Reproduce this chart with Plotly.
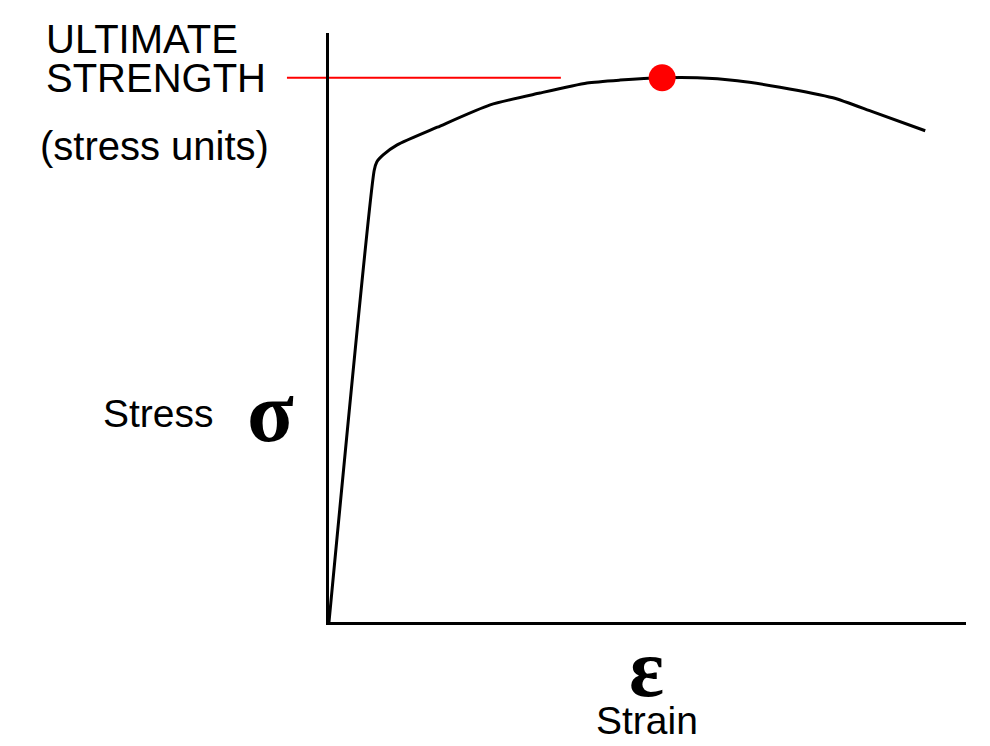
import plotly.graph_objects as go

# Stress-strain curve (arbitrary units)
strain = [0.0, 0.71, 0.75, 0.85, 1.07, 1.70, 2.53, 3.31, 4.05, 4.57, 5.23, 5.78, 6.41, 7.08, 7.91, 8.54, 9.36]
stress = [0.0, 7.67, 7.81, 7.93, 8.10, 8.40, 8.78, 8.98, 9.15, 9.20, 9.24, 9.24, 9.19, 9.08, 8.90, 8.66, 8.34]
ultimate_strain = [5.23]
ultimate_stress = [9.24]

X_RANGE = [0, 10]
Y_RANGE = [0, 10]

fig = go.Figure()
fig.add_trace(go.Scatter(x=strain, y=stress, mode="lines",
                         line=dict(color="black", width=3, shape="spline", smoothing=0.6),
                         hoverinfo="skip"))
fig.add_trace(go.Scatter(x=ultimate_strain, y=ultimate_stress, mode="markers",
                         marker=dict(color="red", size=27), cliponaxis=False, hoverinfo="skip"))

fig.add_shape(type="line", xref="paper", yref="y", x0=-0.066, x1=0.364,
              y0=ultimate_stress[0], y1=ultimate_stress[0],
              line=dict(color="red", width=2), layer="below")

L, T, W, H = 329, 33, 637, 589
def px(xp):
    return (xp - L) / W
def py(yp):
    return (T + H - yp) / H

sans = "Liberation Sans, Arial, sans-serif"
serif = "Liberation Serif, Times New Roman, serif"
ann = [
    dict(x=px(45), y=py(39), text="ULTIMATE", xanchor="left", yanchor="middle",
         font=dict(family=sans, size=40, color="black")),
    dict(x=px(45), y=py(78), text="STRENGTH", xanchor="left", yanchor="middle",
         font=dict(family=sans, size=40, color="black")),
    dict(x=px(39), y=py(146), text="(stress units)", xanchor="left", yanchor="middle",
         font=dict(family=sans, size=40, color="black")),
    dict(x=px(102), y=py(413), text="Stress", xanchor="left", yanchor="middle",
         font=dict(family=sans, size=39, color="black")),
    dict(x=px(270), y=py(412), text="<b>σ</b>", xanchor="center", yanchor="middle",
         font=dict(family=serif, size=86, color="black")),
    dict(x=px(646), y=py(668), text="<b>ε</b>", xanchor="center", yanchor="middle",
         font=dict(family=serif, size=82, color="black")),
    dict(x=px(647), y=py(720), text="Strain", xanchor="center", yanchor="middle",
         font=dict(family=sans, size=39, color="black")),
]
for a in ann:
    a.update(xref="paper", yref="paper", showarrow=False, borderpad=0)
fig.update_layout(annotations=ann)

fig.update_layout(
    width=990, height=746, autosize=False,
    margin=dict(l=L, r=990 - L - W, t=T, b=746 - T - H, pad=0),
    paper_bgcolor="white", plot_bgcolor="white", showlegend=False,
)
fig.update_xaxes(range=X_RANGE, showline=True, linecolor="black", linewidth=3,
                 showgrid=False, zeroline=False, showticklabels=False, ticks="")
fig.update_yaxes(range=Y_RANGE, showline=True, linecolor="black", linewidth=3,
                 showgrid=False, zeroline=False, showticklabels=False, ticks="")

fig.write_html("out.html")
